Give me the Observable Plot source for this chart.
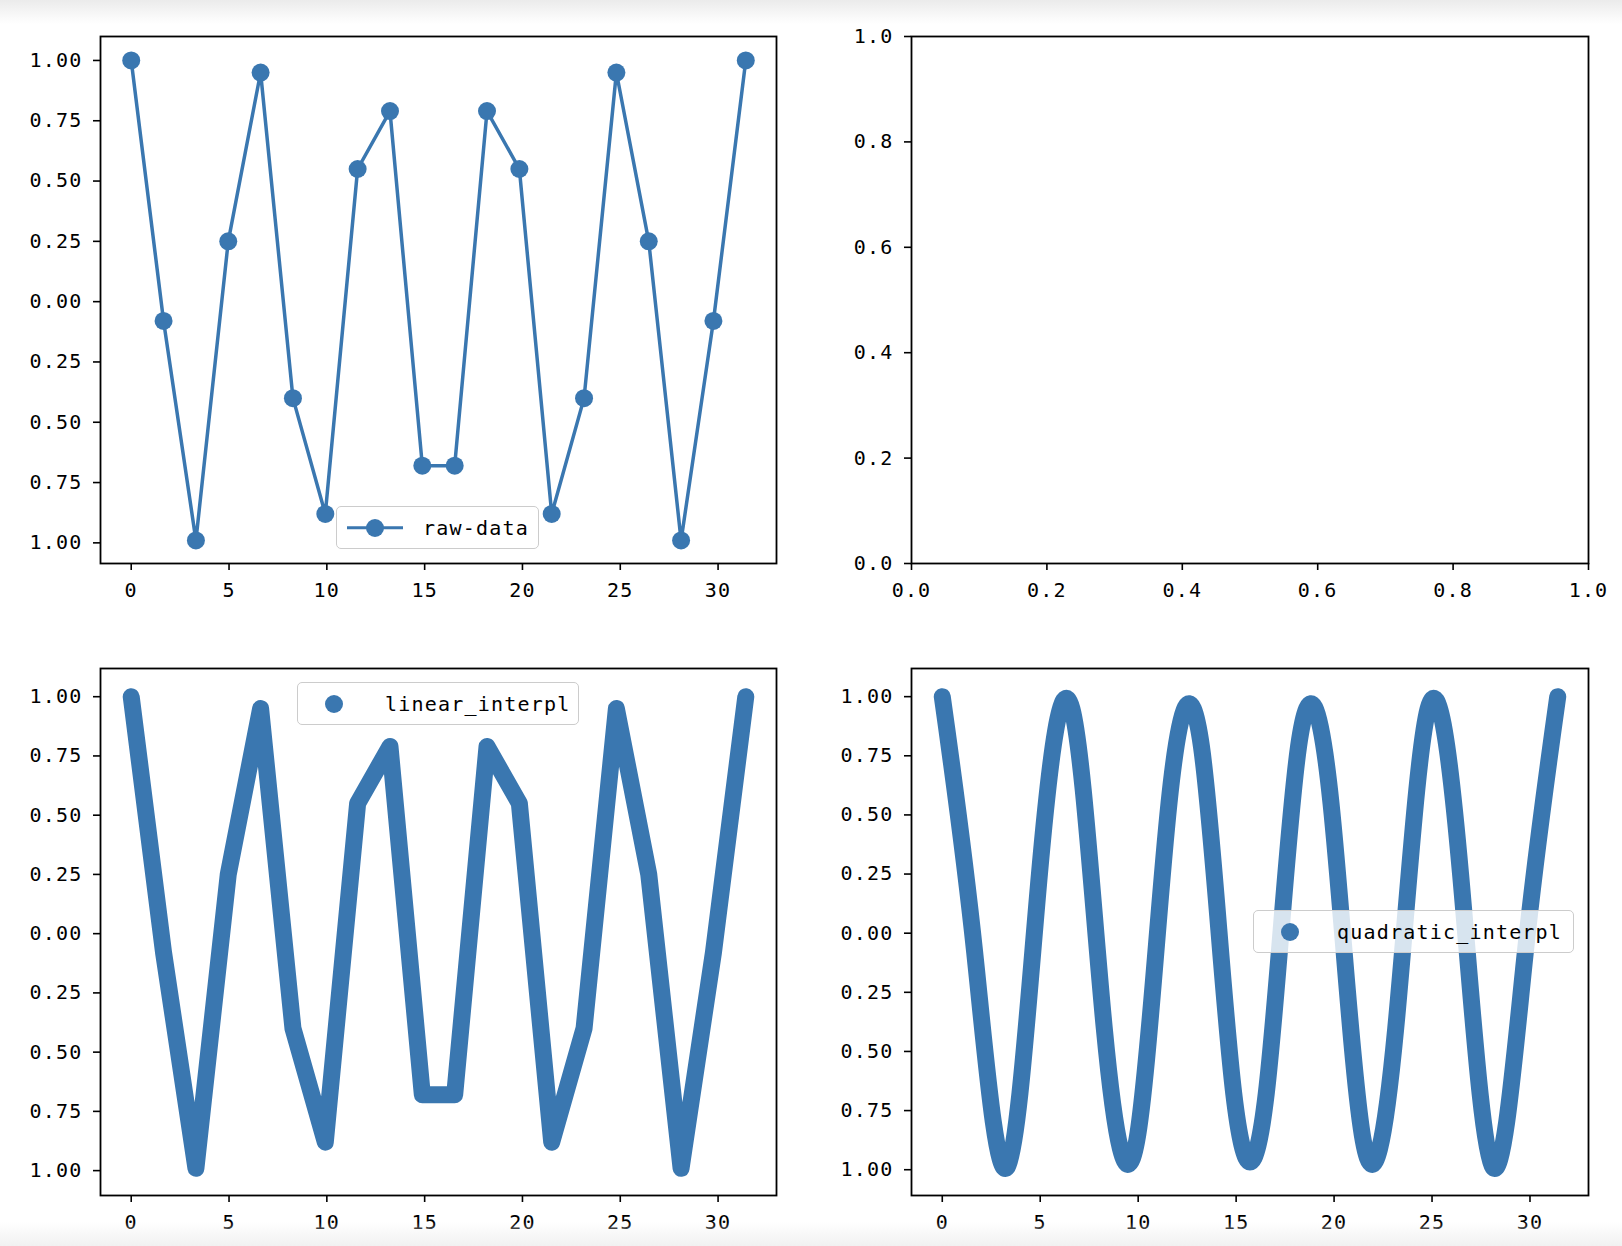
<!DOCTYPE html>
<html>
<head>
<meta charset="utf-8">
<script src="https://cdn.jsdelivr.net/npm/d3@7"></script>
<script src="https://cdn.jsdelivr.net/npm/@observablehq/plot@0.6"></script>
<style>
  html, body { margin: 0; padding: 0; background: #fff; width: 1622px; height: 1246px; overflow: hidden; }
  #root { position: relative; width: 1622px; height: 1246px; }
  .panel { position: absolute; }
  .legend {
    position: absolute; box-sizing: border-box;
    border: 1.6px solid #cccccc; border-radius: 5px;
    background: rgba(255,255,255,0.8);
    font-family: "DejaVu Sans Mono", "Liberation Mono", monospace; font-size: 20px; letter-spacing: 1.2px; color: #000;
  }
  .legend .txt { position: absolute; top: 50%; transform: translateY(-52%); white-space: pre; }
  .legend .dot { position: absolute; width: 18px; height: 18px; border-radius: 50%; background: #3a77b0; top: 50%; transform: translate(-50%, -50%); }
  .legend .ln { position: absolute; height: 3.5px; background: #3a77b0; top: 50%; transform: translateY(-50%); }
  .shadeTop { position: absolute; left: 0; top: 0; width: 1622px; height: 24px; background: linear-gradient(#ebebeb, rgba(255,255,255,0)); }
  .shadeBot { position: absolute; left: 0; top: 1222px; width: 1622px; height: 24px; background: linear-gradient(rgba(255,255,255,0), #f1f1f1); }
</style>
</head>
<body>
<div id="root"></div>
<script>
// ---- data ----
const xs = [0, 1.653, 3.307, 4.960, 6.614, 8.267, 9.921, 11.574, 13.228, 14.881,
            16.535, 18.188, 19.842, 21.495, 23.149, 24.802, 26.456, 28.109, 29.762, 31.416];
const ys = [1.00, -0.08, -0.99, 0.25, 0.95, -0.40, -0.88, 0.55, 0.79, -0.68,
            -0.68, 0.79, 0.55, -0.88, -0.40, 0.95, 0.25, -0.99, -0.08, 1.00];
const xTickValues = [0, 5, 10, 15, 20, 25, 30];
const yTickValues = [-1, -0.75, -0.5, -0.25, 0, 0.25, 0.5, 0.75, 1];
const unitTickValues = [0, 0.2, 0.4, 0.6, 0.8, 1.0];
const legendLabels = ["raw-data", "linear_interpl", "quadratic_interpl"];

const rows = xs.map((x, i) => ({x, y: ys[i]}));
const COLOR = "#3a77b0";
const FONT = "DejaVu Sans Mono, Liberation Mono, monospace";

// tick labels as drawn in the reference (minus sign glyph missing)
const fmt2 = v => Math.abs(v).toFixed(2);
const fmt1 = v => Math.abs(v).toFixed(1);

const root = document.getElementById("root");

function panel({left, top, frameW, frameH, xDomain, yDomain, xTicks, yTicks, xFmt, yFmt, marks}) {
  const mL = 100, mT = 30, mR = 30, mB = 45;
  const chart = Plot.plot({
    width: mL + frameW + mR,
    height: mT + frameH + mB,
    marginLeft: mL, marginTop: mT, marginRight: mR, marginBottom: mB,
    style: {fontFamily: FONT, fontSize: "20px", letterSpacing: "1.2px", color: "#000", background: "transparent", overflow: "visible"},
    x: {domain: xDomain},
    y: {domain: yDomain},
    marks: [
      ...marks,
      Plot.axisX({ticks: xTicks, tickFormat: xFmt, tickSize: 7, tickPadding: 12, strokeWidth: 1.6, label: null, fontSize: 20}),
      Plot.axisY({ticks: yTicks, tickFormat: yFmt, tickSize: 7, tickPadding: 11, strokeWidth: 1.6, label: null, fontSize: 20}),
      Plot.frame({stroke: "#000", strokeWidth: 1.8})
    ]
  });
  const wrap = document.createElement("div");
  wrap.className = "panel";
  wrap.style.left = (left - mL) + "px";
  wrap.style.top = (top - mT) + "px";
  wrap.appendChild(chart);
  root.appendChild(wrap);
}

const xDom = [-1.5708, 32.9867];
const yDomTop = [-1.0856, 1.0993];
const yDomBottom = [-1.105, 1.119];

// top-left: raw data
panel({
  left: 100, top: 36, frameW: 676, frameH: 527,
  xDomain: xDom, yDomain: yDomTop, xTicks: xTickValues, yTicks: yTickValues,
  xFmt: d => String(d), yFmt: fmt2,
  marks: [
    Plot.line(rows, {x: "x", y: "y", stroke: COLOR, strokeWidth: 3.5, clip: true}),
    Plot.dot(rows, {x: "x", y: "y", r: 9, fill: COLOR, clip: true})
  ]
});

// top-right: empty axes
panel({
  left: 911, top: 36, frameW: 677, frameH: 527,
  xDomain: [0, 1], yDomain: [0, 1], xTicks: unitTickValues, yTicks: unitTickValues,
  xFmt: fmt1, yFmt: fmt1, marks: []
});

// bottom-left: linear interpolation
panel({
  left: 100, top: 668, frameW: 676, frameH: 527,
  xDomain: xDom, yDomain: yDomBottom, xTicks: xTickValues, yTicks: yTickValues,
  xFmt: d => String(d), yFmt: fmt2,
  marks: [
    Plot.line(rows, {x: "x", y: "y", stroke: COLOR, strokeWidth: 17, strokeLinejoin: "round", strokeLinecap: "round", clip: true})
  ]
});

// bottom-right: quadratic interpolation (smooth curve through the samples)
panel({
  left: 911, top: 668, frameW: 677, frameH: 527,
  xDomain: xDom, yDomain: [-1.109, 1.119], xTicks: xTickValues, yTicks: yTickValues,
  xFmt: d => String(d), yFmt: fmt2,
  marks: [
    Plot.line(rows, {x: "x", y: "y", curve: "natural", stroke: COLOR, strokeWidth: 17, strokeLinejoin: "round", strokeLinecap: "round", clip: true})
  ]
});

// legends
function legend({left, top, w, h, label, withLine, dotX, textX}) {
  const box = document.createElement("div");
  box.className = "legend";
  Object.assign(box.style, {left: left + "px", top: top + "px", width: w + "px", height: h + "px"});
  if (withLine) {
    const ln = document.createElement("div");
    ln.className = "ln";
    ln.style.left = (dotX - 28 - left) + "px";
    ln.style.width = "56px";
    box.appendChild(ln);
  }
  const dot = document.createElement("div");
  dot.className = "dot";
  dot.style.left = (dotX - left) + "px";
  box.appendChild(dot);
  const t = document.createElement("div");
  t.className = "txt";
  t.style.left = (textX - left) + "px";
  t.textContent = label;
  box.appendChild(t);
  root.appendChild(box);
}
legend({left: 336, top: 506, w: 203, h: 43, label: legendLabels[0], withLine: true, dotX: 374, textX: 422});
legend({left: 297, top: 682, w: 282, h: 43, label: legendLabels[1], withLine: false, dotX: 333, textX: 384});
legend({left: 1253, top: 910, w: 321, h: 43, label: legendLabels[2], withLine: false, dotX: 1289, textX: 1336});

const st = document.createElement("div"); st.className = "shadeTop"; root.appendChild(st);
const sb = document.createElement("div"); sb.className = "shadeBot"; root.appendChild(sb);
</script>
</body>
</html>
